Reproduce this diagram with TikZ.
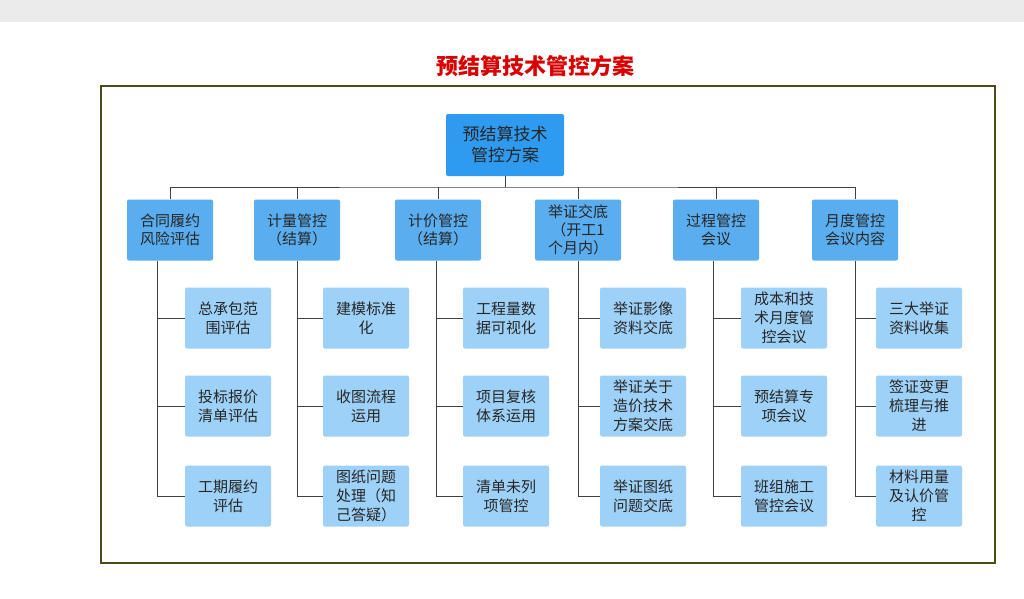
\documentclass[tikz,border=0pt]{standalone}
\usepackage{fontspec}
\setmainfont{Noto Sans CJK SC}
\begin{document}
\begin{tikzpicture}[x=1pt,y=-1pt,
  l0/.style={draw=none,fill=c0,rounded corners=2pt,minimum width=118pt,minimum height=62pt,align=center,font=\fontsize{17}{21}\selectfont,text=black!85},
  l1/.style={fill=c1,rounded corners=2pt,minimum width=86pt,minimum height=61pt,align=center,inner sep=1pt,font=\fontsize{15}{18}\selectfont,text=black!85},
  l2/.style={fill=c2,rounded corners=2pt,minimum width=86pt,minimum height=61pt,align=center,inner sep=1pt,font=\fontsize{15}{19}\selectfont,text=black!85},
  ln/.style={draw=black!75,line width=0.8pt}]
\definecolor{c0}{HTML}{2F9BF0}
\definecolor{c1}{HTML}{5AAEF0}
\definecolor{c2}{HTML}{9ED1F8}
\definecolor{fr}{HTML}{4A4A1A}
\useasboundingbox (0,0) rectangle (1024,598);
\fill[black!8] (0,0) rectangle (1024,22);
\fill[white] (4,22) rectangle (1020,598);
\draw[fr,line width=1.5pt] (101,86) rectangle (995,563);
\node[font=\bfseries\fontsize{22}{26}\selectfont,text=red!85!black] (title) at (535,66) {预结算技术管控方案};
\node[l0] (r) at (505,145) {预结算技术\\管控方案};
\foreach \i/\x/\t in {1/170/合同履约\\风险评估,2/297/计量管控\\（结算）,3/438/计价管控\\（结算）,4/578/举证交底\\（开工1\\个月内）,5/716/过程管控\\会议,6/855/月度管控\\会议内容}
  \node[l1] (a\i) at (\x,230) {\t};
\coordinate (bus) at (505,187);
\draw[ln] (r.south) -- (bus);
\draw[ln] (a1.north) |- (bus) -| (a6.north);
\foreach \i in {2,3,4,5} \draw[ln] (a\i.north) -- (a\i.north |- bus);
\foreach \i/\x/\vx/\ta/\tb/\tc in {
 1/228/157/总承包范\\围评估/投标报价\\清单评估/工期履约\\评估,
 2/366/297/建模标准\\化/收图流程\\运用/图纸问题\\处理（知\\己答疑）,
 3/506/436/工程量数\\据可视化/项目复核\\体系运用/清单未列\\项管控,
 4/643/578/举证影像\\资料交底/举证关于\\造价技术\\方案交底/举证图纸\\问题交底,
 5/784/713/成本和技\\术月度管\\控会议/预结算专\\项会议/班组施工\\管控会议,
 6/919/855/三大举证\\资料收集/签证变更\\梳理与推\\进/材料用量\\及认价管\\控}{
  \node[l2] (b\i1) at (\x,318) {\ta};
  \node[l2] (b\i2) at (\x,406) {\tb};
  \node[l2] (b\i3) at (\x,496) {\tc};
  \coordinate (v\i) at (\vx,261);
  \draw[ln] (v\i) |- (b\i3.west);
  \draw[ln] (b\i1.west) -- (b\i1.west -| v\i);
  \draw[ln] (b\i2.west) -- (b\i2.west -| v\i);
}
\end{tikzpicture}
\end{document}
